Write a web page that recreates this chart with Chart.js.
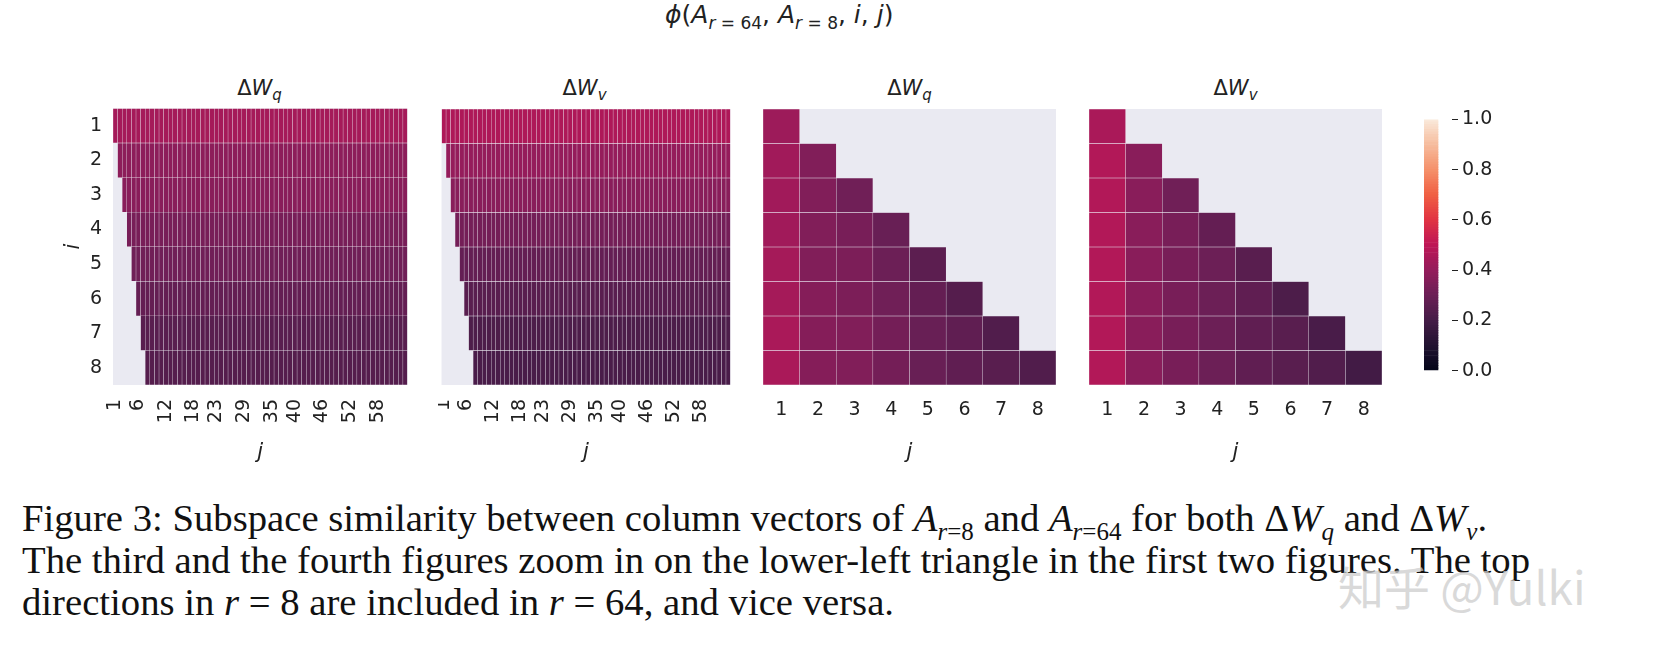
<!DOCTYPE html>
<html lang="en">
<head>
<meta charset="UTF-8">
<title>Subspace similarity</title>
<script src="https://cdn.jsdelivr.net/npm/chart.js"></script>
<style>
  body { margin: 0; background: #fff; font-family: 'DejaVu Sans', sans-serif; }
  #page { position: relative; width: 1653px; height: 645px; overflow: hidden; }
  .box { position: absolute; }
  .ptitle { position: absolute; font-size: 21px; color: #222; text-align: center; width: 293px; }
  .sup { position: absolute; font-size: 25px; color: #222; }
  .cap { position: absolute; left: 22px; font-family: 'Liberation Serif', serif; font-size: 38.7px; color: #111; white-space: nowrap; }
  .wm { position: absolute; left: 1338px; top: 552px; font-size: 46px; color: rgba(205,205,205,0.75); font-family: 'Noto Sans CJK SC', sans-serif; }
</style>
</head>
<body>
<div id="page">
  <div class="sup" style="left:665px;top:0px"><i>ϕ</i>(<i>A</i><sub style="font-size:17px"><i>r</i> = 64</sub>, <i>A</i><sub style="font-size:17px"><i>r</i> = 8</sub>, <i>i</i>, <i>j</i>)</div>

  <div class="ptitle" style="left:113px;top:76px">Δ<i>W</i><sub style="font-size:15px"><i>q</i></sub></div>
  <div class="ptitle" style="left:438px;top:76px">Δ<i>W</i><sub style="font-size:15px"><i>v</i></sub></div>
  <div class="ptitle" style="left:763px;top:76px">Δ<i>W</i><sub style="font-size:15px"><i>q</i></sub></div>
  <div class="ptitle" style="left:1089px;top:76px">Δ<i>W</i><sub style="font-size:15px"><i>v</i></sub></div>

  <div class="box" style="left:61px;top:94px;width:373px;height:375px"><canvas id="c1"></canvas></div>
  <div class="box" style="left:438px;top:109px;width:319px;height:360px"><canvas id="c2"></canvas></div>
  <div class="box" style="left:763px;top:109px;width:293px;height:360px"><canvas id="c3"></canvas></div>
  <div class="box" style="left:1089px;top:109px;width:293px;height:360px"><canvas id="c4"></canvas></div>
  <div class="box" style="left:1424px;top:104px;width:95px;height:282px"><canvas id="cb"></canvas></div>

  <div class="cap" style="top:496px">Figure 3: Subspace similarity between column vectors of <i>A</i><sub style="font-size:25px"><i>r</i>=8</sub> and <i>A</i><sub style="font-size:25px"><i>r</i>=64</sub> for both Δ<i>W<sub style="font-size:25px">q</sub></i> and Δ<i>W<sub style="font-size:25px">v</sub></i>.</div>
  <div class="cap" style="top:538px">The third and the fourth figures zoom in on the lower-left triangle in the first two figures. The top</div>
  <div class="cap" style="top:580px">directions in <i>r</i> = 8 are included in <i>r</i> = 64, and vice versa.</div>
  <div class="wm">知乎 @Yulki</div>
</div>

<script>
// rows i = 1..8, columns j
const rowsI = [1, 2, 3, 4, 5, 6, 7, 8];
const colsWide = Array.from({length: 64}, (_, k) => String(k + 1));
const colsZoom = ['1', '2', '3', '4', '5', '6', '7', '8'];
const wideTicks = ['1', '6', '12', '18', '23', '29', '35', '40', '46', '52', '58'];

// row levels of the 8 x 64 maps (cells within a row are nearly uniform)
const rowLevelQ = [0.44, 0.38, 0.37, 0.33, 0.31, 0.28, 0.25, 0.24];
const rowLevelV = [0.46, 0.40, 0.37, 0.32, 0.28, 0.25, 0.22, 0.21];

// lower triangle of the 8 x 8 zoom, null = masked
const zoomQ = [
  [0.42, null, null, null, null, null, null, null],
  [0.43, 0.35, null, null, null, null, null, null],
  [0.43, 0.35, 0.31, null, null, null, null, null],
  [0.43, 0.35, 0.33, 0.29, null, null, null, null],
  [0.44, 0.35, 0.34, 0.30, 0.26, null, null, null],
  [0.44, 0.36, 0.34, 0.31, 0.28, 0.24, null, null],
  [0.45, 0.36, 0.35, 0.32, 0.29, 0.27, 0.23, null],
  [0.45, 0.36, 0.35, 0.32, 0.29, 0.27, 0.25, 0.23]
];
const zoomV = [
  [0.45, null, null, null, null, null, null, null],
  [0.47, 0.37, null, null, null, null, null, null],
  [0.47, 0.37, 0.31, null, null, null, null, null],
  [0.47, 0.37, 0.33, 0.28, null, null, null, null],
  [0.47, 0.37, 0.33, 0.30, 0.25, null, null, null],
  [0.47, 0.37, 0.33, 0.30, 0.27, 0.22, null, null],
  [0.47, 0.37, 0.33, 0.30, 0.27, 0.25, 0.21, null],
  [0.47, 0.37, 0.33, 0.30, 0.27, 0.25, 0.23, 0.19]
];

const cbarTicks = [0, 0.2, 0.4, 0.6, 0.8, 1.0];

// rocket-like colormap
const stops = [
  [0.0, [3, 5, 26]], [0.1, [34, 19, 49]], [0.2, [69, 28, 71]], [0.3, [108, 31, 86]],
  [0.4, [149, 28, 91]], [0.5, [190, 22, 86]], [0.6, [225, 51, 66]], [0.7, [240, 96, 67]],
  [0.8, [245, 145, 107]], [0.9, [246, 188, 157]], [1.0, [250, 235, 221]]
];
function cmap(v) {
  v = Math.max(0, Math.min(1, v));
  for (let k = 1; k < stops.length; k++) {
    if (v <= stops[k][0]) {
      const [a, ca] = stops[k - 1], [b, cb] = stops[k];
      const t = (v - a) / (b - a);
      const c = ca.map((x, n) => Math.round(x + (cb[n] - x) * t));
      return `rgb(${c[0]},${c[1]},${c[2]})`;
    }
  }
  return 'rgb(250,235,221)';
}

const bgPlugin = {
  id: 'bg',
  beforeDatasetsDraw(chart) {
    const a = chart.chartArea, ctx = chart.ctx;
    ctx.save();
    ctx.fillStyle = '#eaeaf2';
    ctx.fillRect(a.left, a.top, a.right - a.left, a.bottom - a.top);
    ctx.restore();
  }
};

function heatmap(id, cols, valueAt, showY, tickFilter) {
  const datasets = rowsI.map((i, r) => ({
    data: cols.map((c, k) => valueAt(r, k) == null ? null : [i - 1, i]),
    backgroundColor: cols.map((c, k) => valueAt(r, k) == null ? 'rgba(0,0,0,0)' : cmap(valueAt(r, k))),
    borderColor: 'rgba(255,255,255,0.18)',
    borderWidth: 0.5,
    borderSkipped: false,
    grouped: false,
    barPercentage: 1,
    categoryPercentage: 1
  }));
  new Chart(document.getElementById(id), {
    type: 'bar',
    data: { labels: cols, datasets },
    plugins: [bgPlugin],
    options: {
      responsive: true, maintainAspectRatio: false, animation: false,
      layout: { padding: 0 },
      plugins: { legend: { display: false }, tooltip: { enabled: false } },
      scales: {
        x: {
          grid: { display: false }, border: { display: false },
          ticks: {
            autoSkip: false, maxRotation: tickFilter ? 90 : 0, minRotation: tickFilter ? 90 : 0,
            color: '#222', font: { size: 19, family: 'DejaVu Sans' }, padding: 6,
            callback(v, idx) { const l = cols[idx]; return !tickFilter || tickFilter.includes(l) ? l : ''; }
          },
          title: { display: true, text: 'j', color: '#222', font: { size: 21, style: 'italic', family: 'DejaVu Sans' }, padding: { top: 0 } },
          afterFit(s) { s.height = 84; }
        },
        y: {
          display: showY, min: 0, max: 8, reverse: true,
          grid: { display: false }, border: { display: false },
          afterBuildTicks(s) { s.ticks = rowsI.map(i => ({ value: i - 0.5 })); },
          ticks: { color: '#222', font: { size: 19, family: 'DejaVu Sans' }, callback: v => String(v + 0.5) },
          title: { display: true, text: 'i', color: '#222', font: { size: 21, style: 'italic', family: 'DejaVu Sans' }, padding: 0 },
          afterFit(s) { if (showY) s.width = 52; }
        }
      }
    }
  });
}

const maskWide = (r, k) => k < r; // j < i masked
heatmap('c1', colsWide, (r, k) => maskWide(r, k) ? null : rowLevelQ[r], true, wideTicks);
heatmap('c2', colsWide, (r, k) => maskWide(r, k) ? null : rowLevelV[r], false, wideTicks);
heatmap('c3', colsZoom, (r, k) => zoomQ[r][k], false, null);
heatmap('c4', colsZoom, (r, k) => zoomV[r][k], false, null);

// colorbar
const levels = Array.from({length: 100}, (_, k) => k / 100);
new Chart(document.getElementById('cb'), {
  type: 'bar',
  data: {
    labels: ['c'],
    datasets: levels.map(v => ({
      data: [[v, v + 0.0101]], backgroundColor: cmap(v + 0.005), borderWidth: 0,
      grouped: false, barPercentage: 1, categoryPercentage: 1
    }))
  },
  options: {
    responsive: true, maintainAspectRatio: false, animation: false,
    layout: { padding: { top: 8, bottom: 8 } },
    plugins: { legend: { display: false }, tooltip: { enabled: false } },
    scales: {
      x: { display: false, offset: false },
      y: {
        position: 'right', min: 0, max: 1,
        grid: { drawOnChartArea: false, drawTicks: true, tickLength: 6, color: '#222' }, border: { display: false },
        afterBuildTicks(s) { s.ticks = cbarTicks.map(v => ({ value: v })); },
        ticks: { color: '#222', font: { size: 19, family: 'DejaVu Sans' }, padding: 4, callback: v => v.toFixed(1) },
        afterFit(s) { s.width = 67; }
      }
    }
  }
});
</script>
</body>
</html>
